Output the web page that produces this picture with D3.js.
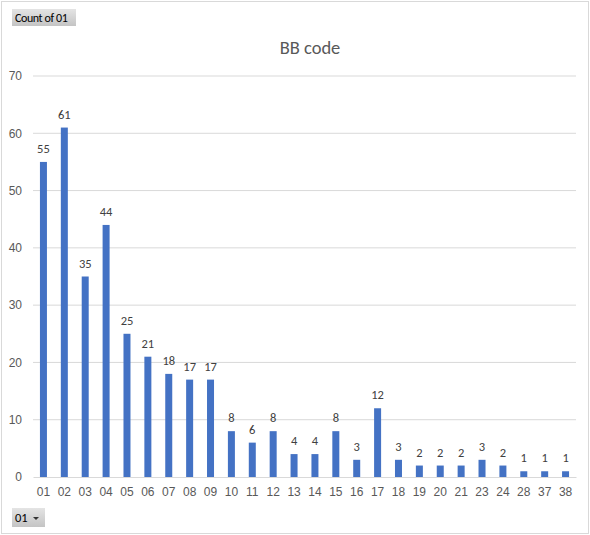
<!DOCTYPE html>
<html lang="en">
<head>
<meta charset="UTF-8">
<title>BB code</title>
<script src="https://d3js.org/d3.v7.min.js"></script>
<style>
    body { margin: 0; background: #ffffff; font-family: Carlito, "Liberation Sans", Arial, sans-serif; }
    .axis text { fill: #595959; font-size: 12px; }
</style>
</head>
<body>
<div id="chart"></div>
<script>
    // Values
    const categories = ["01","02","03","04","05","06","07","08","09","10","11","12","13","14","15",
                        "16","17","18","19","20","21","23","24","28","37","38"];
    const counts = [55,61,35,44,25,21,18,17,17,8,6,8,4,4,8,3,12,3,2,2,2,3,2,1,1,1];
    const yTicks = [0,10,20,30,40,50,60,70];

    const W = 590, H = 535;
    const margin = { top: 76, right: 14, bottom: 58, left: 33 };
    const width = 576 - margin.left;
    const height = 477 - margin.top;

    const svg = d3.select("#chart").append("svg")
        .attr("width", W).attr("height", H);

    const defs = svg.append("defs");
    const grad = defs.append("linearGradient").attr("id", "btn").attr("x1", 0).attr("y1", 0).attr("x2", 0).attr("y2", 1);
    grad.append("stop").attr("offset", "0%").attr("stop-color", "#e4e4e4");
    grad.append("stop").attr("offset", "100%").attr("stop-color", "#c4c4c4");

    // outer border
    svg.append("rect")
        .attr("x", 1.5).attr("y", 1.5).attr("width", W - 3).attr("height", H - 3)
        .attr("fill", "#fff").attr("stroke", "#d9d9d9");

    const g = svg.append("g").attr("transform", `translate(${margin.left},${margin.top})`);

    const x = d3.scaleBand().domain(categories).range([0, width]).paddingInner(0).paddingOuter(0);
    const y = d3.scaleLinear().domain([0, 70]).range([height, 0]);

    // gridlines
    g.append("g").selectAll("line")
        .data(yTicks.filter(d => d > 0))
        .join("line")
        .attr("x1", 0).attr("x2", width)
        .attr("y1", d => y(d)).attr("y2", d => y(d))
        .attr("stroke", "#d9d9d9");

    // y axis labels
    const yAxis = g.append("g").attr("class", "axis")
        .call(d3.axisLeft(y).tickValues(yTicks).tickSize(0).tickPadding(11));
    yAxis.select(".domain").remove();

    const barW = 7;
    g.selectAll("rect.bar")
        .data(counts)
        .join("rect")
        .attr("class", "bar")
        .attr("x", (d, i) => x(categories[i]) + x.bandwidth() / 2 - barW / 2)
        .attr("y", d => y(d))
        .attr("width", barW)
        .attr("height", d => height - y(d))
        .attr("fill", "#4472c4");

    g.selectAll("text.lbl")
        .data(counts)
        .join("text")
        .attr("class", "lbl")
        .attr("x", (d, i) => x(categories[i]) + x.bandwidth() / 2)
        .attr("y", d => y(d) - 9)
        .attr("text-anchor", "middle")
        .attr("fill", "#404040")
        .style("font-size", "12.5px")
        .text(d => d);

    // x axis
    const xAxis = g.append("g").attr("class", "axis")
        .attr("transform", `translate(0,${height})`)
        .call(d3.axisBottom(x).tickSize(0).tickPadding(10));
    xAxis.select(".domain").attr("stroke", "#d9d9d9");

    // title
    svg.append("text")
        .attr("x", 310).attr("y", 54)
        .attr("text-anchor", "middle")
        .attr("fill", "#595959")
        .style("font-size", "18.5px")
        .text("BB code");

    // field buttons
    svg.append("rect").attr("x", 12).attr("y", 9).attr("width", 64).attr("height", 17).attr("fill", "url(#btn)");
    svg.append("text").attr("x", 15).attr("y", 22).attr("fill", "#000")
        .style("font-size", "12px").style("letter-spacing", "-0.4px").text("Count of 01");

    svg.append("rect").attr("x", 12).attr("y", 508).attr("width", 33).attr("height", 19).attr("fill", "url(#btn)");
    svg.append("text").attr("x", 15).attr("y", 522).attr("fill", "#000")
        .style("font-size", "12.5px").text("01");
    svg.append("path").attr("d", "M33,517 L39,517 L36,520 Z").attr("fill", "#333");
</script>
</body>
</html>
